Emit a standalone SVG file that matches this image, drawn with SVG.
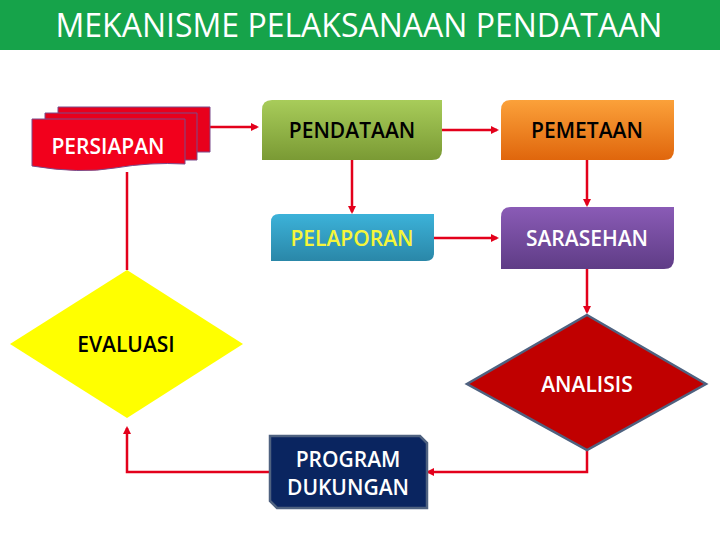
<svg xmlns="http://www.w3.org/2000/svg" width="720" height="540" viewBox="0 0 720 540">
<style>
.t{font-family:"Open Sans","Liberation Sans",sans-serif;font-weight:600;font-size:21px;text-anchor:middle;dominant-baseline:central}
.c{fill:none;stroke:#e3001b;stroke-width:2.5}
</style>
<defs>
<marker id="a" markerWidth="8" markerHeight="8" refX="6" refY="4" orient="auto" markerUnits="userSpaceOnUse"><path d="M0,0L8,4L0,8z" fill="#e3001b"/></marker>
<linearGradient id="g1" x1="0" y1="0" x2="0" y2="1"><stop offset="0" stop-color="#a8cc5a"/><stop offset="1" stop-color="#7a9a34"/></linearGradient>
<linearGradient id="g2" x1="0" y1="0" x2="0" y2="1"><stop offset="0" stop-color="#fba13a"/><stop offset="1" stop-color="#e0660c"/></linearGradient>
<linearGradient id="g3" x1="0" y1="0" x2="0" y2="1"><stop offset="0" stop-color="#3cb2d9"/><stop offset="1" stop-color="#2a87a8"/></linearGradient>
<linearGradient id="g4" x1="0" y1="0" x2="0" y2="1"><stop offset="0" stop-color="#8a5bb6"/><stop offset="1" stop-color="#5f3c86"/></linearGradient>
</defs>
<rect width="720" height="540" fill="#fff"/>
<rect x="0" y="0" width="720" height="50" fill="#16a34a"/>
<text x="359" y="24" font-family="Open Sans,Liberation Sans,sans-serif" font-size="32" fill="#fff" text-anchor="middle" dominant-baseline="central">MEKANISME PELAKSANAAN PENDATAAN</text>
<g id="connectors">
<path class="c" d="M210,127H257" marker-end="url(#a)"/>
<path class="c" d="M442,130H497" marker-end="url(#a)"/>
<path class="c" d="M352,160V212" marker-end="url(#a)"/>
<path class="c" d="M434,238H497" marker-end="url(#a)"/>
<path class="c" d="M587,160V205" marker-end="url(#a)"/>
<path class="c" d="M587,269V312" marker-end="url(#a)"/>
<path class="c" d="M587,450V472H428" marker-end="url(#a)"/>
<path class="c" d="M270,472H127V428" marker-end="url(#a)"/>
<path class="c" d="M127,172V270"/>
</g>
<g id="persiapan">
<path d="M58,107H210V152H58z" fill="#e8001c" stroke="#7a4b8a" stroke-width="1"/>
<path d="M45,113H197V160H45z" fill="#e8001c" stroke="#7a4b8a" stroke-width="1"/>
<path d="M32,119H185V164Q150,162 115,168Q80,174 32,166z" fill="#f2001c" stroke="#7a4b8a" stroke-width="1"/>
<text class="t" x="108" y="146" fill="#fff">PERSIAPAN</text>
</g>
<g id="pendataan">
<path d="M272,100H442V150Q442,160 432,160H262V110Q262,100 272,100z" fill="url(#g1)"/>
<text class="t" x="352" y="130" fill="#000">PENDATAAN</text>
</g>
<g id="pemetaan">
<path d="M511,100H674V150Q674,160 664,160H501V110Q501,100 511,100z" fill="url(#g2)"/>
<text class="t" x="587" y="130" fill="#000">PEMETAAN</text>
</g>
<g id="pelaporan">
<path d="M279,214H434V253Q434,261 426,261H271V222Q271,214 279,214z" fill="url(#g3)"/>
<text class="t" x="352" y="238" fill="#f5f53a">PELAPORAN</text>
</g>
<g id="sarasehan">
<path d="M511,207H674V259Q674,269 664,269H501V217Q501,207 511,207z" fill="url(#g4)"/>
<text class="t" x="587" y="238" fill="#fff">SARASEHAN</text>
</g>
<g id="evaluasi">
<path d="M127,270L243,344L127,418L10,344z" fill="#ffff00"/>
<text class="t" x="126" y="344" fill="#000">EVALUASI</text>
</g>
<g id="analisis">
<path d="M587,315L706,384L587,450L467,384z" fill="#c00000" stroke="#4f6280" stroke-width="2.5"/>
<text class="t" x="587" y="384" fill="#fff">ANALISIS</text>
</g>
<g id="program">
<path d="M270,436H420L427,443V508H277L270,501z" fill="#0a2560" stroke="#4f6280" stroke-width="2.5"/>
<text class="t" x="348" y="459" fill="#fff">PROGRAM</text>
<text class="t" x="348" y="487" fill="#fff">DUKUNGAN</text>
</g>
</svg>
